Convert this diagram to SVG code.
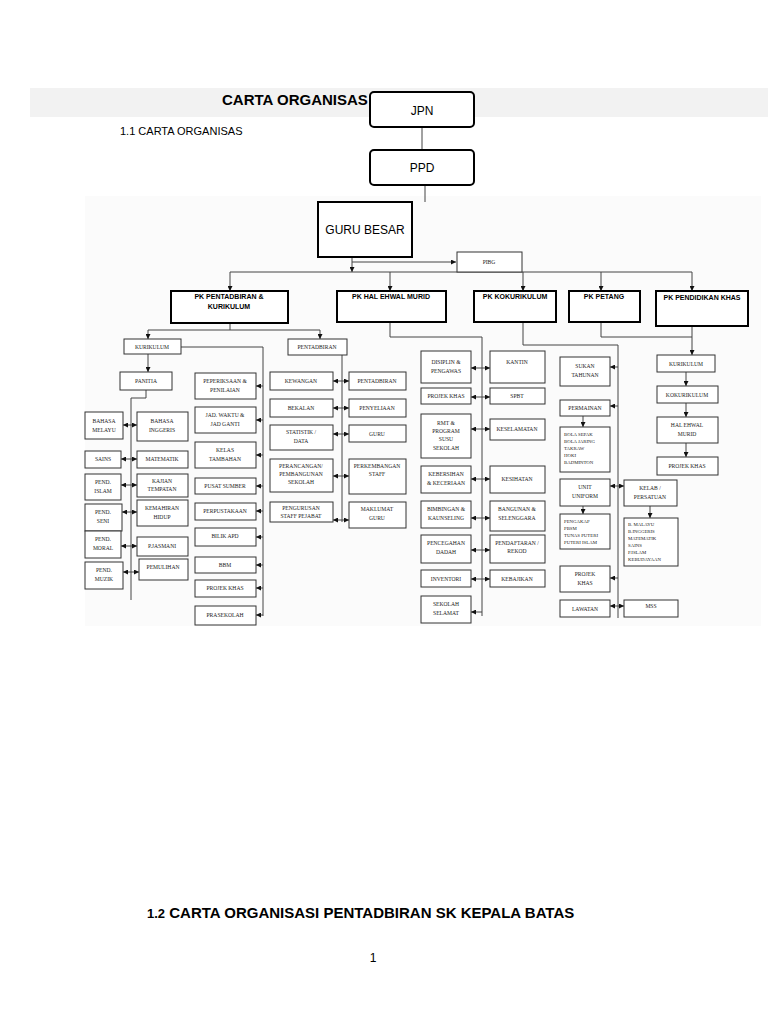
<svg xmlns="http://www.w3.org/2000/svg" width="768" height="1024" viewBox="0 0 768 1024" xml:space="preserve">
<style>
.b{fill:#fff;stroke:#333;stroke-width:1}
.k{fill:#fff;stroke:#000;stroke-width:2}
.s{font-family:"Liberation Serif",serif;font-size:5.6px;fill:#222;text-anchor:middle}
.l{font-family:"Liberation Serif",serif;font-size:4.8px;fill:#222;text-anchor:start}
.p{font-family:"Liberation Sans",Arial,sans-serif;font-size:7px;font-weight:bold;fill:#000;text-anchor:middle}
.c line,.c polyline{stroke:#444;stroke-width:1;fill:none}
.h{font-family:"Liberation Sans",Arial,sans-serif;font-weight:bold;font-size:15px;fill:#000}
</style>
<defs>
<marker id="a" viewBox="0 0 6 6" refX="6" refY="3" markerWidth="5" markerHeight="5" orient="auto-start-reverse"><path d="M0,0L6,3L0,6z" fill="#111"/></marker>
</defs>
<rect width="768" height="1024" fill="#fff"/>
<rect x="30" y="88" width="738" height="29" fill="#f2f2f2"/>
<text class="h" x="222" y="105">CARTA ORGANISAS</text>
<text x="120" y="135" font-family="Liberation Sans,Arial,sans-serif" font-size="11">1.1  CARTA ORGANISAS</text>
<rect x="85" y="196" width="676" height="430" fill="#fbfbfb"/>
<g class="c">
<line x1="422" y1="127" x2="422" y2="150"/>
<line x1="425" y1="185" x2="425" y2="202"/>
<line x1="352" y1="257" x2="352" y2="272" marker-end="url(#a)"/>
<line x1="352" y1="262" x2="456" y2="262" marker-end="url(#a)"/>
<line x1="230" y1="272" x2="692" y2="272"/>
<line x1="230" y1="272" x2="230" y2="291" marker-end="url(#a)"/>
<line x1="390" y1="272" x2="390" y2="291" marker-end="url(#a)"/>
<line x1="523" y1="272" x2="523" y2="291" marker-end="url(#a)"/>
<line x1="601" y1="272" x2="601" y2="291" marker-end="url(#a)"/>
<line x1="692" y1="272" x2="692" y2="291" marker-end="url(#a)"/>
<line x1="230" y1="323" x2="230" y2="330"/>
<line x1="148" y1="330" x2="320" y2="330"/>
<line x1="148" y1="330" x2="148" y2="339" marker-end="url(#a)"/>
<line x1="320" y1="330" x2="320" y2="339" marker-end="url(#a)"/>
<polyline points="181,347 263,347 263,616"/>
<line x1="148" y1="354" x2="148" y2="372" marker-end="url(#a)"/>
<polyline points="146,390 146,398 131,398 131,600"/>
<line x1="342" y1="355" x2="342" y2="522"/>
<polyline points="390,322 390,337 482,337 482,616"/>
<polyline points="523,322 523,345 618,345 618,618"/>
<polyline points="601,322 601,337 692,337"/>
<line x1="692" y1="326" x2="692" y2="355" marker-end="url(#a)"/>
<line x1="686" y1="372" x2="686" y2="386" marker-end="url(#a)"/>
<line x1="686" y1="403" x2="686" y2="417" marker-end="url(#a)"/>
<line x1="686" y1="443" x2="686" y2="457" marker-end="url(#a)"/>
<line x1="583" y1="416" x2="583" y2="427" marker-end="url(#a)"/>
<line x1="583" y1="506" x2="583" y2="514" marker-end="url(#a)"/>
<line x1="650" y1="506" x2="650" y2="518" marker-end="url(#a)"/>
<line x1="263" y1="386" x2="256" y2="386" marker-end="url(#a)"/>
<line x1="263" y1="420" x2="256" y2="420" marker-end="url(#a)"/>
<line x1="263" y1="455" x2="256" y2="455" marker-end="url(#a)"/>
<line x1="263" y1="486" x2="256" y2="486" marker-end="url(#a)"/>
<line x1="263" y1="511" x2="256" y2="511" marker-end="url(#a)"/>
<line x1="263" y1="537" x2="256" y2="537" marker-end="url(#a)"/>
<line x1="263" y1="565" x2="256" y2="565" marker-end="url(#a)"/>
<line x1="263" y1="588" x2="256" y2="588" marker-end="url(#a)"/>
<line x1="263" y1="615" x2="256" y2="615" marker-end="url(#a)"/>
<line x1="123" y1="425" x2="137" y2="425" marker-start="url(#a)" marker-end="url(#a)"/>
<line x1="121" y1="459" x2="137" y2="459" marker-start="url(#a)" marker-end="url(#a)"/>
<line x1="121" y1="485" x2="137" y2="485" marker-start="url(#a)" marker-end="url(#a)"/>
<line x1="122" y1="512" x2="137" y2="512" marker-start="url(#a)" marker-end="url(#a)"/>
<line x1="121" y1="546" x2="137" y2="546" marker-start="url(#a)" marker-end="url(#a)"/>
<line x1="123" y1="572" x2="139" y2="572" marker-start="url(#a)" marker-end="url(#a)"/>
<line x1="333" y1="381" x2="349" y2="381" marker-start="url(#a)" marker-end="url(#a)"/>
<line x1="333" y1="408" x2="349" y2="408" marker-start="url(#a)" marker-end="url(#a)"/>
<line x1="333" y1="434" x2="349" y2="434" marker-start="url(#a)" marker-end="url(#a)"/>
<line x1="333" y1="476" x2="349" y2="476" marker-start="url(#a)" marker-end="url(#a)"/>
<line x1="333" y1="520" x2="349" y2="520" marker-start="url(#a)" marker-end="url(#a)"/>
<line x1="471" y1="368" x2="490" y2="368" marker-start="url(#a)" marker-end="url(#a)"/>
<line x1="471" y1="397" x2="490" y2="397" marker-start="url(#a)" marker-end="url(#a)"/>
<line x1="471" y1="429" x2="490" y2="429" marker-start="url(#a)" marker-end="url(#a)"/>
<line x1="471" y1="479" x2="490" y2="479" marker-start="url(#a)" marker-end="url(#a)"/>
<line x1="471" y1="518" x2="490" y2="518" marker-start="url(#a)" marker-end="url(#a)"/>
<line x1="471" y1="550" x2="490" y2="550" marker-start="url(#a)" marker-end="url(#a)"/>
<line x1="471" y1="579" x2="490" y2="579" marker-start="url(#a)" marker-end="url(#a)"/>
<line x1="482" y1="612" x2="471" y2="612" marker-end="url(#a)"/>
<line x1="618" y1="367" x2="610" y2="367" marker-end="url(#a)"/>
<line x1="618" y1="406" x2="610" y2="406" marker-end="url(#a)"/>
<line x1="610" y1="486" x2="624" y2="486" marker-start="url(#a)" marker-end="url(#a)"/>
<line x1="618" y1="578" x2="610" y2="578" marker-end="url(#a)"/>
<line x1="610" y1="606" x2="624" y2="606" marker-start="url(#a)" marker-end="url(#a)"/>
</g>
<g id="top">
<rect class="k" x="370" y="92" width="104" height="35" rx="4" stroke-width="1.3"/>
<text x="422" y="115" font-family="Liberation Sans,Arial,sans-serif" font-size="12" text-anchor="middle">JPN</text>
<rect class="k" x="370" y="150" width="104" height="35" rx="4" stroke-width="1.3"/>
<text x="422" y="172" font-family="Liberation Sans,Arial,sans-serif" font-size="12" text-anchor="middle">PPD</text>
<rect class="k" x="318" y="202" width="94" height="55"/>
<text x="365" y="234" font-family="Liberation Sans,Arial,sans-serif" font-size="12" text-anchor="middle">GURU BESAR</text>
<rect class="b" x="457" y="252" width="65" height="20" stroke="#999"/>
<text class="s" x="489" y="264">PIBG</text>
</g>
<g id="pk">
<rect class="k" x="171" y="291" width="117" height="32"/><text class="p" x="229" y="299">PK PENTADBIRAN &amp;</text><text class="p" x="229" y="309">KURIKULUM</text>
<rect class="k" x="337" y="291" width="109" height="31"/><text class="p" x="391" y="299">PK HAL EHWAL MURID</text>
<rect class="k" x="474" y="291" width="82" height="31"/><text class="p" x="515" y="299">PK KOKURIKULUM</text>
<rect class="k" x="569" y="291" width="71" height="31"/><text class="p" x="604" y="299">PK PETANG</text>
<rect class="k" x="656" y="291" width="92" height="35"/><text class="p" x="702" y="300">PK PENDIDIKAN KHAS</text>
</g>
<g id="kurikulum">
<rect class="b" x="124" y="339" width="57" height="15"/><text class="s" x="152" y="349">KURIKULUM</text>
<rect class="b" x="120" y="372" width="52" height="18"/><text class="s" x="146" y="383">PANITIA</text>
<rect class="b" x="195" y="373" width="61" height="26"/><text class="s" x="225" y="383">PEPERIKSAAN &amp;</text><text class="s" x="225" y="392">PENILAIAN</text>
<rect class="b" x="195" y="407" width="61" height="26"/><text class="s" x="225" y="417">JAD. WAKTU &amp;</text><text class="s" x="225" y="426">JAD GANTI</text>
<rect class="b" x="195" y="442" width="61" height="26"/><text class="s" x="225" y="452">KELAS</text><text class="s" x="225" y="461">TAMBAHAN</text>
<rect class="b" x="195" y="478" width="61" height="16"/><text class="s" x="225" y="488">PUSAT SUMBER</text>
<rect class="b" x="195" y="503" width="61" height="17"/><text class="s" x="225" y="513">PERPUSTAKAAN</text>
<rect class="b" x="195" y="528" width="61" height="18"/><text class="s" x="225" y="538">BILIK APD</text>
<rect class="b" x="195" y="557" width="61" height="16"/><text class="s" x="225" y="567">BBM</text>
<rect class="b" x="195" y="580" width="61" height="17"/><text class="s" x="225" y="590">PROJEK KHAS</text>
<rect class="b" x="195" y="606" width="61" height="19"/><text class="s" x="225" y="617">PRASEKOLAH</text>
<rect class="b" x="85" y="412" width="38" height="27"/><text class="s" x="104" y="423">BAHASA</text><text class="s" x="104" y="432">MELAYU</text>
<rect class="b" x="137" y="412" width="51" height="29"/><text class="s" x="162" y="423">BAHASA</text><text class="s" x="162" y="432">INGGERIS</text>
<rect class="b" x="85" y="451" width="36" height="17"/><text class="s" x="103" y="461">SAINS</text>
<rect class="b" x="137" y="451" width="51" height="17"/><text class="s" x="162" y="461">MATEMATIK</text>
<rect class="b" x="85" y="474" width="36" height="26"/><text class="s" x="103" y="484">PEND.</text><text class="s" x="103" y="493">ISLAM</text>
<rect class="b" x="137" y="474" width="51" height="23"/><text class="s" x="162" y="483">KAJIAN</text><text class="s" x="162" y="491">TEMPATAN</text>
<rect class="b" x="85" y="504" width="37" height="27"/><text class="s" x="103" y="514">PEND.</text><text class="s" x="103" y="523">SENI</text>
<rect class="b" x="137" y="500" width="51" height="26"/><text class="s" x="162" y="510">KEMAHIRAN</text><text class="s" x="162" y="519">HIDUP</text>
<rect class="b" x="85" y="531" width="36" height="27"/><text class="s" x="103" y="541">PEND.</text><text class="s" x="103" y="550">MORAL</text>
<rect class="b" x="137" y="537" width="51" height="19"/><text class="s" x="162" y="548">P.JASMANI</text>
<rect class="b" x="85" y="562" width="38" height="27"/><text class="s" x="104" y="572">PEND.</text><text class="s" x="104" y="581">MUZIK</text>
<rect class="b" x="139" y="559" width="49" height="21"/><text class="s" x="163" y="569">PEMULIHAN</text>
</g>
<g id="pentadbiran">
<rect class="b" x="288" y="339" width="59" height="16"/><text class="s" x="317" y="349">PENTADBIRAN</text>
<rect class="b" x="270" y="372" width="63" height="18"/><text class="s" x="301" y="383">KEWANGAN</text>
<rect class="b" x="349" y="372" width="57" height="18"/><text class="s" x="377" y="383">PENTADBIRAN</text>
<rect class="b" x="270" y="399" width="63" height="18"/><text class="s" x="301" y="410">BEKALAN</text>
<rect class="b" x="349" y="399" width="57" height="18"/><text class="s" x="377" y="410">PENYELIAAN</text>
<rect class="b" x="270" y="425" width="63" height="25"/><text class="s" x="301" y="434">STATISTIK /</text><text class="s" x="301" y="443">DATA</text>
<rect class="b" x="349" y="425" width="57" height="17"/><text class="s" x="377" y="436">GURU</text>
<rect class="b" x="270" y="459" width="63" height="33"/><text class="s" x="301" y="468">PERANCANGAN/</text><text class="s" x="301" y="476">PEMBANGUNAN</text><text class="s" x="301" y="484">SEKOLAH</text>
<rect class="b" x="349" y="459" width="57" height="35"/><text class="s" x="377" y="468">PERKEMBANGAN</text><text class="s" x="377" y="476">STAFF</text>
<rect class="b" x="270" y="502" width="63" height="20"/><text class="s" x="301" y="510">PENGURUSAN</text><text class="s" x="301" y="518">STAFF PEJABAT</text>
<rect class="b" x="349" y="502" width="57" height="26"/><text class="s" x="377" y="511">MAKLUMAT</text><text class="s" x="377" y="520">GURU</text>
</g>
<g id="hem">
<rect class="b" x="421" y="351" width="50" height="32"/><text class="s" x="446" y="364">DISIPLIN &amp;</text><text class="s" x="446" y="373">PENGAWAS</text>
<rect class="b" x="490" y="351" width="55" height="32"/><text class="s" x="517" y="364">KANTIN</text>
<rect class="b" x="421" y="388" width="50" height="16"/><text class="s" x="446" y="398">PROJEK KHAS</text>
<rect class="b" x="490" y="388" width="55" height="16"/><text class="s" x="517" y="398">SPBT</text>
<rect class="b" x="421" y="414" width="50" height="44"/><text class="s" x="446" y="425">RMT &amp;</text><text class="s" x="446" y="433">PROGRAM</text><text class="s" x="446" y="441">SUSU</text><text class="s" x="446" y="450">SEKOLAH</text>
<rect class="b" x="490" y="419" width="55" height="21"/><text class="s" x="517" y="431">KESELAMATAN</text>
<rect class="b" x="421" y="466" width="50" height="27"/><text class="s" x="446" y="476">KEBERSIHAN</text><text class="s" x="446" y="485">&amp; KECERIAAN</text>
<rect class="b" x="490" y="466" width="55" height="27"/><text class="s" x="517" y="481">KESIHATAN</text>
<rect class="b" x="421" y="501" width="50" height="27"/><text class="s" x="446" y="511">BIMBINGAN &amp;</text><text class="s" x="446" y="520">KAUNSELING</text>
<rect class="b" x="490" y="501" width="55" height="30"/><text class="s" x="517" y="511">BANGUNAN &amp;</text><text class="s" x="517" y="520">SELENGGARA</text>
<rect class="b" x="421" y="535" width="50" height="28"/><text class="s" x="446" y="545">PENCEGAHAN</text><text class="s" x="446" y="554">DADAH</text>
<rect class="b" x="490" y="535" width="55" height="28"/><text class="s" x="517" y="545">PENDAFTARAN /</text><text class="s" x="517" y="553">REKOD</text>
<rect class="b" x="421" y="570" width="50" height="17"/><text class="s" x="446" y="581">INVENTORI</text>
<rect class="b" x="490" y="570" width="55" height="17"/><text class="s" x="517" y="581">KEBAJIKAN</text>
<rect class="b" x="421" y="596" width="50" height="27"/><text class="s" x="446" y="606">SEKOLAH</text><text class="s" x="446" y="615">SELAMAT</text>
</g>
<g id="koku">
<rect class="b" x="560" y="357" width="50" height="29"/><text class="s" x="585" y="368">SUKAN</text><text class="s" x="585" y="377">TAHUNAN</text>
<rect class="b" x="560" y="400" width="50" height="16"/><text class="s" x="585" y="410">PERMAINAN</text>
<rect class="b" x="560" y="427" width="50" height="45"/>
<text class="l" x="564" y="436">BOLA SEPAK</text><text class="l" x="564" y="443">BOLA JARING</text><text class="l" x="564" y="450">TAKRAW</text><text class="l" x="564" y="457">HOKI</text><text class="l" x="564" y="464">BADMINTON</text>
<rect class="b" x="560" y="479" width="50" height="27"/><text class="s" x="585" y="489">UNIT</text><text class="s" x="585" y="498">UNIFORM</text>
<rect class="b" x="624" y="480" width="53" height="26"/><text class="s" x="650" y="490">KELAB /</text><text class="s" x="650" y="499">PERSATUAN</text>
<rect class="b" x="560" y="514" width="50" height="35"/>
<text class="l" x="564" y="523">PENGAKAP</text><text class="l" x="564" y="530">PBSM</text><text class="l" x="564" y="537">TUNAS PUTERI</text><text class="l" x="564" y="544">PUTERI ISLAM</text>
<rect class="b" x="624" y="518" width="54" height="48"/>
<text class="l" x="628" y="526">B. MALAYU</text><text class="l" x="628" y="533">B.INGGERIS</text><text class="l" x="628" y="540">MATEMATIK</text><text class="l" x="628" y="547">SAINS</text><text class="l" x="628" y="554">P.ISLAM</text><text class="l" x="628" y="561">KEBUDAYAAN</text>
<rect class="b" x="560" y="566" width="50" height="26"/><text class="s" x="585" y="576">PROJEK</text><text class="s" x="585" y="585">KHAS</text>
<rect class="b" x="560" y="600" width="50" height="17"/><text class="s" x="585" y="611">LAWATAN</text>
<rect class="b" x="624" y="600" width="54" height="17"/><text class="s" x="651" y="608">MSS</text>
</g>
<g id="khas">
<rect class="b" x="657" y="355" width="58" height="17"/><text class="s" x="686" y="366">KURIKULUM</text>
<rect class="b" x="657" y="386" width="61" height="17"/><text class="s" x="687" y="397">KOKURIKULUM</text>
<rect class="b" x="657" y="417" width="61" height="26"/><text class="s" x="687" y="427">HAL EHWAL</text><text class="s" x="687" y="436">MURID</text>
<rect class="b" x="657" y="457" width="61" height="18"/><text class="s" x="687" y="468">PROJEK KHAS</text>
</g>
<text class="h" x="147" y="918" font-size="15.5"><tspan font-size="13">1.2</tspan>  CARTA ORGANISASI PENTADBIRAN  SK KEPALA BATAS</text>
<text x="373" y="962" font-family="Liberation Sans,Arial,sans-serif" font-size="12" text-anchor="middle">1</text>
</svg>
